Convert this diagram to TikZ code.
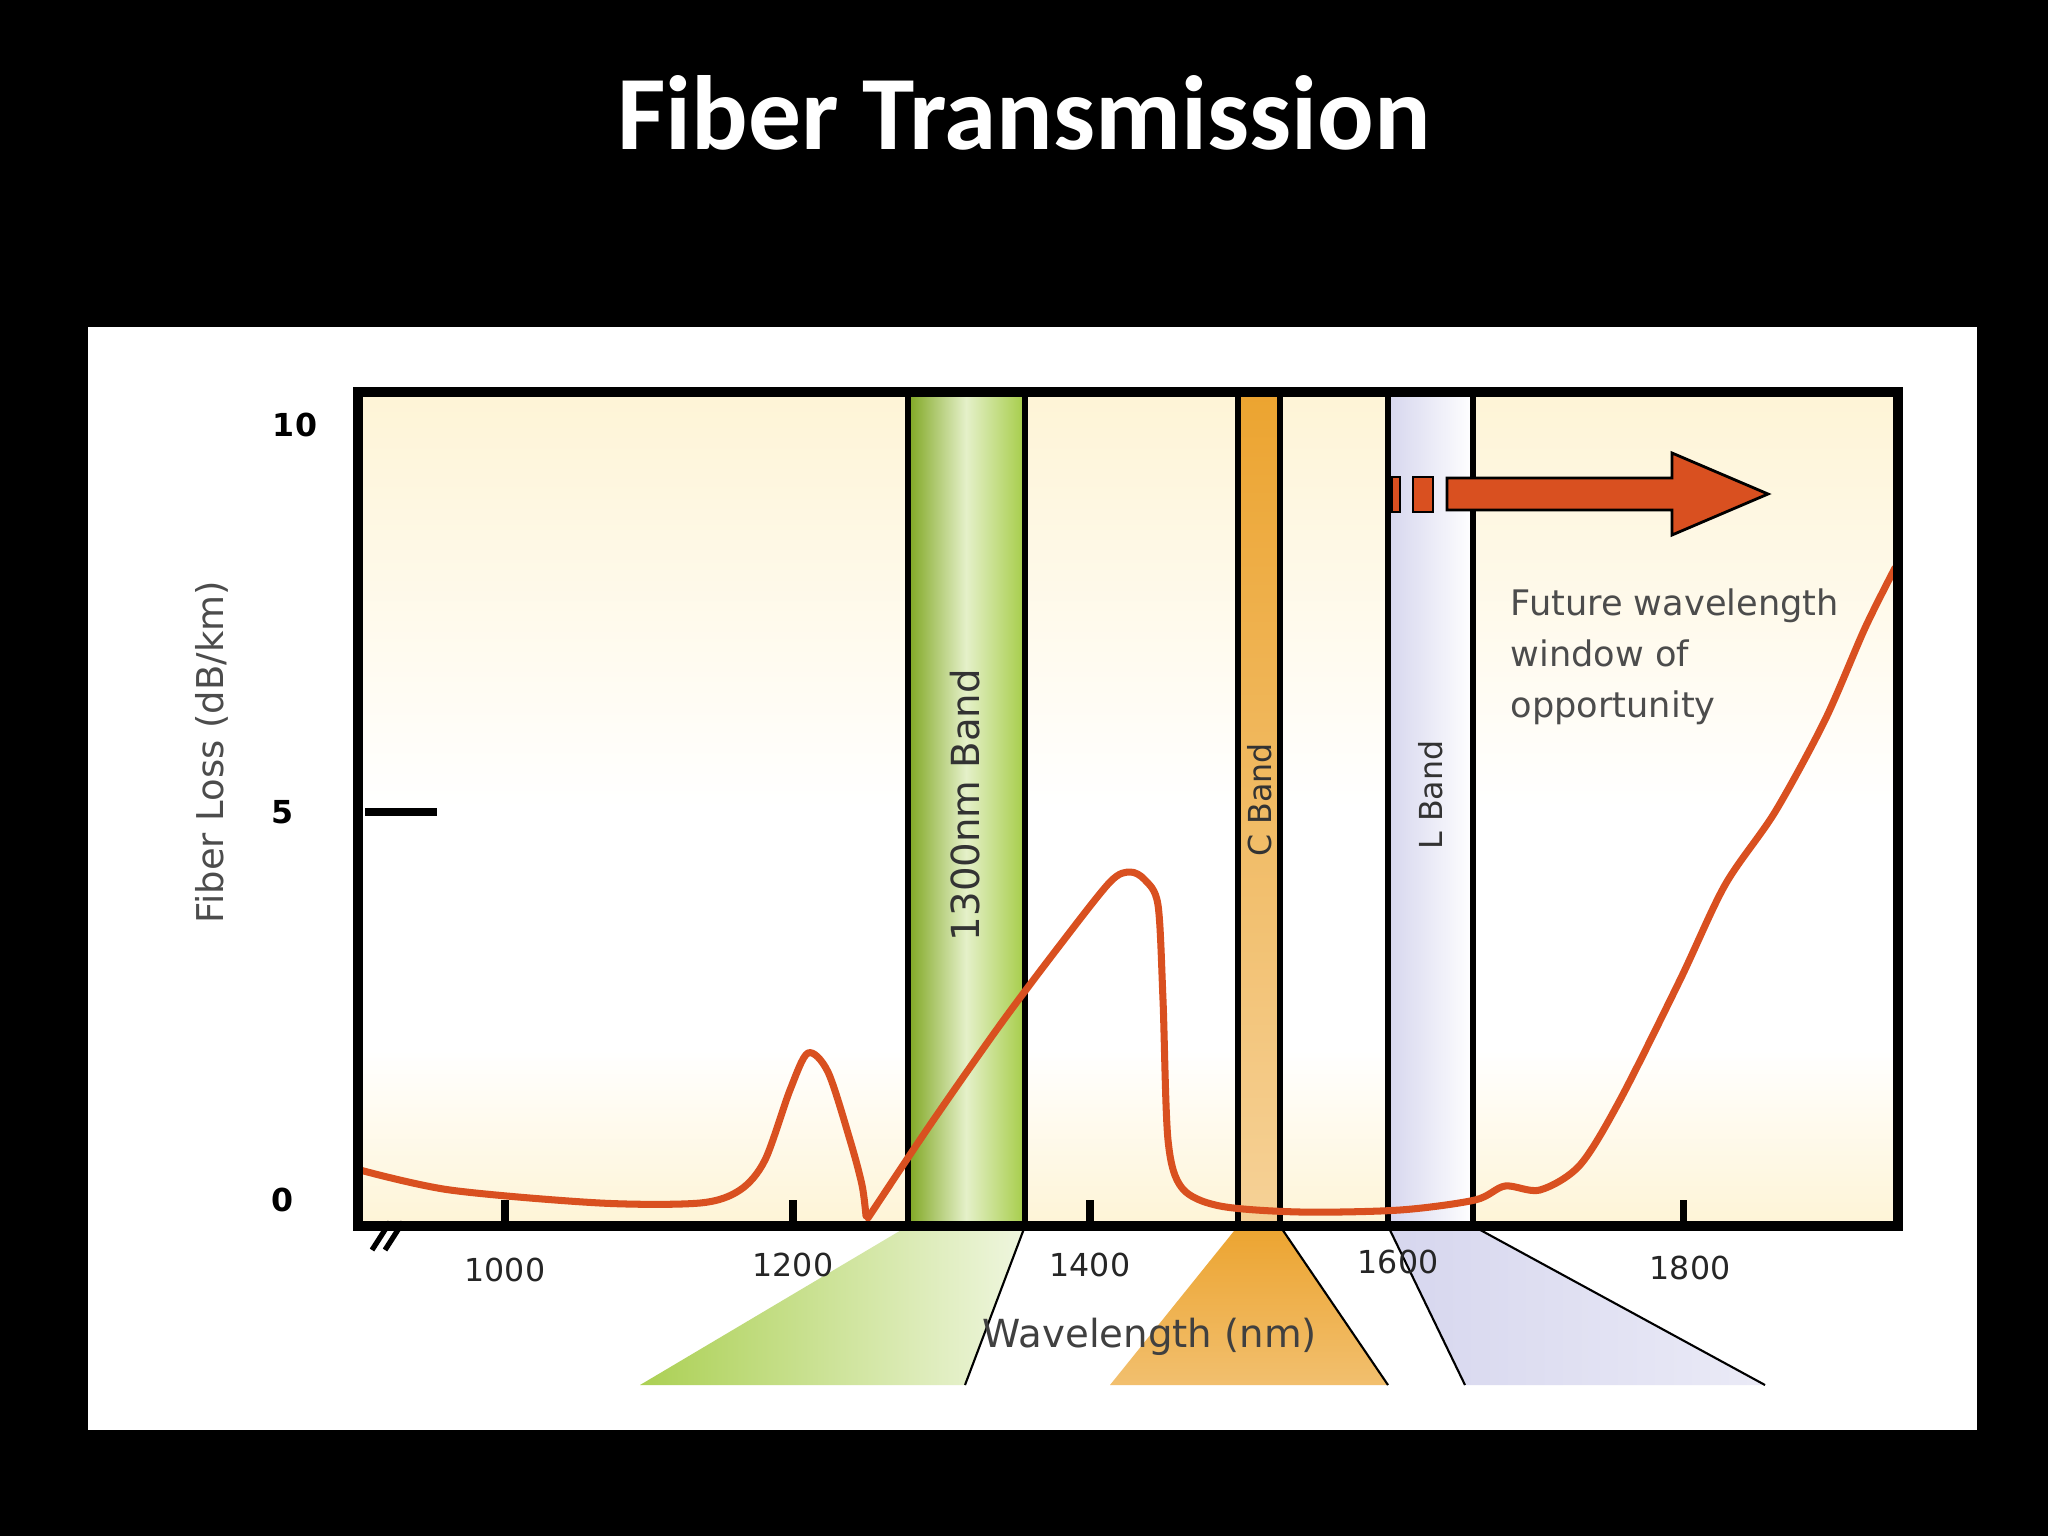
\documentclass[tikz,border=0pt]{standalone}
\usepackage{fontspec}
\setmainfont{DejaVu Sans}
\newfontfamily\titlefont{Carlito}
\begin{document}
\begin{tikzpicture}[x=0.01cm,y=-0.01cm,
  lbl/.style={text=black!70,font=\fontsize{9}{11}\selectfont,inner sep=0},
  ax/.style={text=black!85,font=\fontsize{9}{11}\selectfont,inner sep=0},
  yl/.style={font=\bfseries\fontsize{9}{11}\selectfont,inner sep=0},
  curve/.style={draw={rgb,255:red,217;green,80;blue,32},line width=2pt,line cap=round,line join=round}]
\definecolor{redor}{RGB}{217,80,32}
\definecolor{cream}{RGB}{254,244,214}
\definecolor{lav}{RGB}{214,214,238}
\definecolor{grn}{RGB}{150,196,40}
\definecolor{org}{RGB}{236,164,48}
\fill[black] (0,0) rectangle (2048,1536);
\useasboundingbox (0,0) rectangle (2048,1536);
\node[text=white,font=\titlefont\bfseries\fontsize{30}{36}\selectfont] (title) at (1024,113) {Fiber Transmission};
\fill[white] (88,327) rectangle (1977,1430);
% plot area
\shade[top color=cream,bottom color=white,middle color=white] (358,392) rectangle (1898,1226);
\shade[top color=white,bottom color=cream] (358,1050) rectangle (1898,1226);
% lower trapezoids
\shade[left color=grn!80,right color=grn!15] (908,1226) -- (1025,1226) -- (965,1385) -- (640,1385) -- cycle;
\shade[top color=org,bottom color=org!70] (1238,1226) -- (1280,1226) -- (1388,1385) -- (1110,1385) -- cycle;
\shade[left color=lav,right color=lav!50] (1388,1226) -- (1473,1226) -- (1765,1385) -- (1465,1385) -- cycle;
\draw[black,line width=0.6pt] (1025,1226) -- (965,1385) (1280,1226) -- (1388,1385) (1388,1226) -- (1465,1385) (1473,1226) -- (1765,1385);
% bands
\shade[left color=grn!85!black,right color=grn!25] (908,392) rectangle (966,1226);
\shade[left color=grn!25,right color=grn!85] (966,392) rectangle (1025,1226);
\shade[top color=org,bottom color=org!50] (1238,392) rectangle (1280,1226);
\shade[left color=lav,right color=white] (1388,392) rectangle (1473,1226);
\draw[line width=1.5pt] (908,392) -- (908,1226) (1025,392) -- (1025,1226)
  (1238,392) -- (1238,1226) (1280,392) -- (1280,1226)
  (1388,392) -- (1388,1226) (1473,392) -- (1473,1226);
\node[rotate=90,font=\fontsize{11}{13}\selectfont,text=black!80] (b1) at (965,805) {1300nm Band};
\node[rotate=90,font=\fontsize{9}{11}\selectfont,text=black!80] (b2) at (1260,800) {C Band};
\node[rotate=90,font=\fontsize{9}{11}\selectfont,text=black!80] (b3) at (1431,795) {L Band};
% arrow
\fill[redor,draw=black,line width=0.8pt] (1392,477) rectangle (1400,512);
\fill[redor,draw=black,line width=0.8pt] (1413,477) rectangle (1433,512);
\fill[redor,draw=black,line width=0.8pt] (1447,478) -- (1672,478) -- (1672,453) -- (1768,494) -- (1672,535) -- (1672,510) -- (1447,510) -- cycle;
\node[lbl,anchor=north west,align=left,font=\fontsize{10}{14.5}\selectfont] (fut) at (1510,588) {Future wavelength\\window of\\opportunity};
% curve
\draw[curve] plot[smooth,tension=0.5] coordinates {(360,1170) (450,1190) (600,1203) (700,1203) (740,1190) (765,1160) (790,1090) (808,1053) (828,1072) (850,1140) (862,1185) (866,1216)};
\draw[curve] plot[smooth,tension=0.5] coordinates {(868,1218) (930,1125) (1000,1025) (1060,945) (1110,882) (1130,872) (1145,880) (1158,905) (1163,1000) (1168,1140) (1182,1188) (1220,1206) (1300,1212) (1400,1210) (1475,1200) (1505,1186) (1540,1190) (1580,1165) (1620,1100) (1680,980) (1725,885) (1775,812) (1825,720) (1865,628) (1895,568)};
% frame
\draw[line width=3pt] (358,392) rectangle (1898,1226);
\draw[line width=2pt] (365,812) -- (437,812);
\foreach \x in {505,793,1090,1683} \draw[line width=2pt] (\x,1226) -- (\x,1200);
\draw[line width=1.5pt] (372,1250) -- (390,1222) (385,1250) -- (403,1222);
\node[yl] (y10) at (295,425) {10};
\node[yl] (y5) at (283,812) {5};
\node[yl] (y0) at (283,1200) {0};
\node[ax] (x1) at (505,1270) {1000};
\node[ax] (x2) at (793,1265) {1200};
\node[ax] (x3) at (1090,1265) {1400};
\node[ax] (x4) at (1398,1262) {1600};
\node[ax] (x5) at (1690,1268) {1800};
\node[text=black!75,font=\fontsize{11}{13}\selectfont] (xl) at (1150,1337) {Wavelength (nm)};
\node[rotate=90,text=black!70,font=\fontsize{10.5}{13}\selectfont] (ylab) at (212,752) {Fiber Loss (dB/km)};
\end{tikzpicture}
\end{document}
